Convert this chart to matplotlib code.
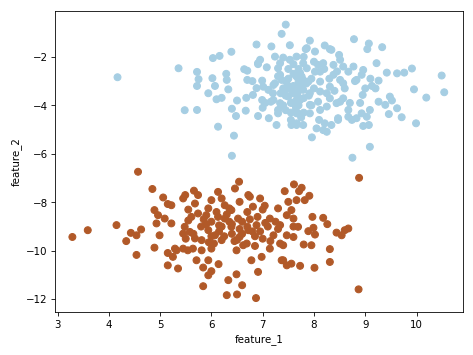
import numpy as np
import matplotlib
matplotlib.use("Agg")
import matplotlib.pyplot as plt

# cluster 0 (light blue)
x0 = [4.17, 5.36, 5.72, 5.75, 5.72, 6.02, 6.07, 6.29, 6.30, 6.33, 5.94, 6.10, 6.20, 6.03, 6.16,
      6.39, 5.48, 5.72, 6.13, 6.44, 6.40, 6.50, 6.40, 6.48, 6.67, 6.68, 6.64, 6.70, 6.70, 6.88,
      7.17, 7.45, 7.37, 7.53, 6.91, 6.95, 7.08, 6.99, 6.88, 6.81, 6.99, 6.91, 7.12, 7.27, 7.30,
      7.21, 7.11, 7.24, 7.37, 7.43, 7.50, 7.34, 7.56, 7.66, 7.24, 7.34, 7.53, 7.30, 7.66, 7.60,
      7.66, 8.78, 9.07, 9.04, 9.33, 8.21, 8.31, 7.92, 7.84, 8.02, 7.66, 8.49, 8.51, 9.22, 9.42,
      9.62, 9.76, 9.91, 10.49, 10.54, 10.19, 9.95, 9.62, 9.46, 9.71, 9.99, 9.26, 9.48, 9.52, 9.26,
      9.13, 8.95, 8.96, 8.93, 8.83, 8.77, 8.57, 8.67, 8.38, 8.18, 8.08, 8.02, 8.38, 8.51, 8.57,
      8.31, 8.12, 9.09, 9.07, 8.96, 9.09, 8.75, 8.74, 8.83, 8.67, 8.47, 8.34, 8.21, 8.05, 8.18,
      7.96, 7.79, 7.66, 7.69, 7.92, 8.12, 8.25, 8.44, 8.57, 8.31, 8.08, 7.92, 7.73, 7.79, 7.92,
      8.12, 7.79, 7.73, 7.86, 7.79, 8.25, 8.67, 8.93, 9.03, 7.50, 7.60, 7.70, 7.55, 7.65, 7.45,
      7.80, 7.70, 7.60, 7.50, 7.40, 7.85, 7.90, 7.60, 7.70, 7.55, 7.75, 7.45, 7.35, 7.95, 8.34,
      7.86, 7.40, 6.91, 7.34, 8.12, 7.76, 7.73, 7.89, 7.46, 7.21, 7.01, 7.30, 8.25, 7.16, 9.39,
      8.47, 8.51, 7.60, 7.70, 7.80, 8.00, 8.20, 8.30, 8.00, 7.65, 7.55, 7.80, 8.40, 8.60, 8.70,
      8.90, 9.00, 9.20, 7.30, 7.20, 7.40, 7.00, 8.10, 8.80, 8.45, 7.95, 9.10, 6.80, 7.05, 7.50,
      7.55, 7.68]
y0 = [-2.84, -2.47, -2.62, -2.92, -3.20, -2.88, -3.20, -2.70, -2.95, -3.34, -3.50, -3.75, -3.69, -2.05, -1.96,
      -1.79, -4.20, -4.19, -4.88, -5.25, -6.08, -3.80, -4.14, -4.44, -4.22, -3.69, -2.51, -2.57, -2.95, -1.49,
      -1.57, -0.67, -1.05, -1.52, -2.26, -2.12, -2.43, -2.98, -3.29, -3.57, -3.78, -4.44, -4.53, -4.81, -4.19,
      -3.78, -3.36, -3.09, -2.95, -3.36, -3.64, -3.91, -4.81, -4.74, -1.99, -2.26, -2.12, -2.47, -2.81, -3.91,
      -4.33, -1.27, -1.45, -1.68, -1.60, -1.53, -1.68, -1.33, -1.68, -1.78, -1.99, -1.92, -2.12, -2.26, -2.65,
      -2.68, -2.65, -2.48, -2.77, -3.46, -3.68, -3.34, -4.12, -4.36, -4.49, -4.74, -3.85, -3.64, -3.80, -2.98,
      -3.20, -3.57, -2.54, -2.74, -2.95, -2.40, -2.40, -2.61, -2.33, -2.26, -2.33, -2.61, -2.74, -2.95, -3.09,
      -3.23, -3.02, -4.19, -4.81, -4.85, -5.71, -6.16, -4.60, -4.53, -4.47, -4.53, -4.81, -4.74, -4.95, -5.02,
      -5.32, -4.81, -4.81, -4.33, -4.33, -4.19, -4.05, -3.91, -3.71, -3.71, -3.85, -3.98, -3.78, -3.36, -3.50,
      -3.43, -2.95, -2.67, -2.47, -2.26, -3.50, -4.19, -4.33, -4.47, -3.20, -3.50, -3.00, -3.90, -4.10, -3.60,
      -3.70, -4.00, -2.70, -2.90, -3.30, -3.10, -3.60, -3.20, -3.40, -4.30, -4.50, -4.20, -3.50, -2.90, -1.71,
      -1.64, -2.03, -2.30, -2.74, -2.61, -2.81, -3.16, -3.02, -3.02, -3.16, -3.23, -4.33, -5.09, -3.85, -3.98,
      -4.60, -3.85, -2.30, -2.50, -2.00, -2.20, -2.50, -2.90, -3.30, -3.80, -4.60, -4.30, -3.40, -3.30, -3.90,
      -3.90, -3.30, -3.30, -2.80, -3.50, -4.00, -4.10, -4.60, -3.00, -2.60, -4.00, -2.90, -3.00, -3.90, -2.50,
      -3.35, -3.62]

# cluster 1 (brown)
x1 = [3.29, 3.59, 4.57, 4.15, 4.34, 4.43, 4.54, 4.63, 4.54, 4.85, 5.06, 4.89, 4.96, 5.15, 5.09,
      5.22, 4.93, 4.99, 4.89, 5.15, 5.15, 5.35, 5.25, 5.32, 5.45, 5.54, 5.64, 5.45, 5.49, 5.66,
      5.74, 5.68, 5.55, 5.48, 5.45, 5.58, 5.68, 5.81, 5.61, 5.74, 5.90, 6.00, 5.94, 6.07, 6.20,
      6.00, 5.81, 5.71, 5.94, 5.84, 6.00, 5.94, 5.84, 6.14, 6.33, 6.49, 6.60, 6.30, 6.50, 6.78,
      6.13, 6.20, 6.26, 5.94, 6.00, 6.46, 6.54, 6.55, 6.72, 6.39, 6.52, 6.39, 6.26, 6.55, 6.72,
      6.49, 6.69, 6.13, 5.29, 6.75, 6.95, 7.04, 6.81, 7.43, 7.30, 7.50, 7.14, 6.88, 5.22, 7.34,
      7.47, 7.21, 6.87, 6.91, 6.98, 7.37, 7.47, 7.34, 7.14, 6.62, 8.88, 8.87, 7.61, 7.76, 7.71,
      7.91, 7.82, 7.66, 7.56, 7.47, 7.60, 7.97, 8.18, 8.26, 7.69, 7.99, 7.89, 8.02, 8.44, 8.54,
      8.67, 8.60, 7.60, 7.40, 7.80, 7.95, 8.31, 8.31, 7.40, 7.56, 7.73, 8.01, 6.30, 6.60, 6.80,
      6.40, 6.90, 7.00, 6.20, 6.70, 7.10, 6.00, 5.80, 5.50, 6.45, 6.85, 7.25, 5.90, 6.35, 6.15,
      6.60, 7.00, 6.10, 6.40, 6.55, 6.70, 6.95, 7.15, 6.25, 5.65, 5.85, 6.35, 6.75, 6.05, 5.55,
      7.30, 7.60, 6.50, 6.85, 6.15, 5.95, 7.05]
y1 = [-9.43, -9.15, -6.74, -8.94, -9.60, -9.26, -9.36, -9.12, -10.17, -7.45, -7.80, -8.32, -8.53, -8.07, -8.67,
      -8.87, -8.87, -9.36, -9.87, -10.09, -10.60, -10.73, -10.25, -9.98, -9.91, -9.98, -9.91, -7.84, -7.70, -7.52,
      -7.70, -8.05, -8.30, -9.01, -9.29, -9.22, -9.49, -9.56, -8.60, -8.46, -8.53, -8.80, -9.15, -9.36, -9.56,
      -9.91, -9.98, -10.39, -10.39, -10.69, -10.84, -11.01, -11.46, -10.55, -11.21, -10.97, -11.42, -11.83, -11.80, -10.39,
      -7.57, -7.84, -8.12, -8.25, -7.91, -7.43, -7.15, -7.98, -7.70, -8.32, -8.67, -9.01, -8.67, -9.43, -9.15,
      -9.98, -9.70, -8.60, -9.91, -7.77, -7.84, -8.14, -8.18, -7.54, -8.25, -7.98, -8.67, -8.94, -8.12, -8.94,
      -9.36, -9.36, -11.95, -10.87, -10.25, -10.39, -10.60, -9.70, -9.91, -9.77, -6.99, -11.59, -7.26, -7.40, -7.54,
      -7.73, -7.91, -7.91, -8.32, -8.53, -8.67, -8.60, -8.64, -8.90, -9.01, -9.05, -9.19, -9.33, -9.25, -9.36,
      -9.08, -9.15, -9.43, -9.77, -9.74, -9.77, -9.93, -10.46, -10.39, -10.53, -10.62, -10.70, -8.50, -8.80, -9.20,
      -9.30, -8.60, -9.50, -9.00, -8.40, -9.00, -9.40, -9.00, -9.50, -9.60, -9.80, -8.80, -8.90, -8.80, -9.20,
      -9.30, -8.30, -8.40, -8.90, -9.10, -9.00, -9.20, -9.60, -9.40, -9.30, -8.70, -8.25, -8.70, -9.70, -8.75,
      -9.10, -9.00, -9.55, -9.40, -8.95, -9.65, -8.85]

X = np.array(x0 + x1)
Y = np.array(y0 + y1)
labels = np.array([0] * len(x0) + [1] * len(x1))

fig = plt.figure(figsize=(6.4, 4.8), dpi=74)
ax = fig.add_axes([0.116, 0.12, 0.861, 0.849])
ax.scatter(X, Y, c=labels, cmap="Paired", s=45)
ax.set_xlim(2.95, 10.9)
ax.set_ylim(-12.54, -0.1)
ax.set_xlabel("feature_1")
ax.set_ylabel("feature_2")

plt.savefig("out.png", dpi=74)
